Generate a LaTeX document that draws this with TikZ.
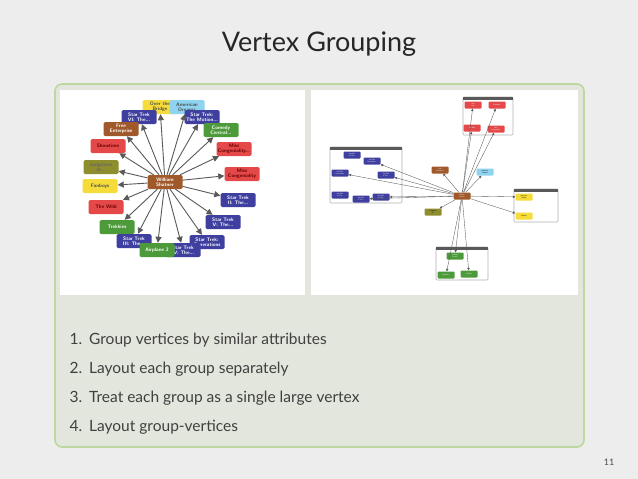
\documentclass[tikz,border=0pt]{standalone}
\usepackage{fontspec}
\setmainfont{Lato}
\usetikzlibrary{arrows.meta}
\definecolor{slidebg}{HTML}{EDEDED}
\definecolor{panel}{HTML}{E3E6DC}
\definecolor{panelb}{HTML}{BCD8A0}
\definecolor{nblue}{HTML}{3F3FA0}
\definecolor{nred}{HTML}{E54848}
\definecolor{ngreen}{HTML}{4C9A3A}
\definecolor{nbrown}{HTML}{A0592A}
\definecolor{nyellow}{HTML}{F5DC3A}
\definecolor{nolive}{HTML}{8E8E2E}
\definecolor{nlblue}{HTML}{8ED4F0}
\begin{document}
\begin{tikzpicture}[x=1pt,y=-1pt,
  nd/.style={rounded corners=1.5pt,inner sep=0.5pt,minimum width=35pt,minimum height=14pt,align=center,font=\fontsize{5}{5.3}\selectfont\sffamily\bfseries,text=white},
  sn/.style={rounded corners=1pt,inner sep=0pt,minimum width=17pt,minimum height=7pt,align=center,font=\fontsize{1.6}{1.8}\selectfont,text=white},
  ed/.style={draw=gray!70!black,line width=0.9pt,-{Triangle[length=6pt,width=6pt]}},
  se/.style={draw=gray!70!black,line width=0.35pt,-{Triangle[length=2.4pt,width=2.4pt]}},
  grp/.style={draw=gray!60,fill=white,line width=0.6pt,rounded corners=1pt},
  gh/.style={fill=gray!70!black},
  lst/.style={anchor=west,font=\fontsize{15.5}{17}\selectfont,text=black!75}]
\useasboundingbox (0,0) rectangle (638,479);
\fill[slidebg] (0,0) rectangle (638,479);
\node[font=\fontsize{27}{30}\selectfont,text=black!85] (title) at (319,44) {Vertex Grouping};
\draw[panelb,fill=panel,line width=1.6pt,rounded corners=7pt] (55,84) rectangle (584,447);
\fill[white] (60,90) rectangle (305,295);
\fill[white] (311,90) rectangle (578,295);
% left graph
\node[nd,fill=nyellow,text=black!70] (ob) at (160,107) {Over the\\Bridge};
\node[nd,fill=nlblue,text=black!70] (am) at (187,107) {American\\Dreamz};
\node[nd,fill=nblue] (s6) at (139,117) {Star Trek\\VI: The...};
\node[nd,fill=nblue] (smp) at (202,117) {Star Trek:\\The Motion...};
\node[nd,fill=nbrown] (fe) at (121,129) {Free\\Enterprise};
\node[nd,fill=ngreen] (cc) at (221,130) {Comedy\\Central...};
\node[nd,fill=nred,text=red!40!black] (sh) at (108,146) {Showtime};
\node[nd,fill=nred,text=red!40!black] (mc1) at (234,149) {Miss\\Congeniality...};
\node[nd,fill=nolive,text=black!60] (ja) at (101,167) {Judgment\\at...};
\node[nd,fill=nred,text=red!40!black] (mc2) at (242,174) {Miss\\Congeniality};
\node[nd,fill=nyellow,text=black!70] (fb) at (100,186) {Fanboys};
\node[nd,fill=nblue] (s2) at (238,200) {Star Trek\\II: The...};
\node[nd,fill=nred,text=red!40!black] (tw) at (106,207) {The Wild};
\node[nd,fill=nblue] (s5) at (223,222) {Star Trek\\V: The...};
\node[nd,fill=ngreen] (tk) at (117,227) {Trekkies};
\node[nd,fill=nblue] (s3) at (134,241) {Star Trek\\III: The...};
\node[nd,fill=nblue] (sg) at (207,242) {Star Trek:\\Generations};
\node[nd,fill=nblue] (s4) at (183,250) {Star Trek\\IV: The...};
\node[nd,fill=ngreen] (ap) at (157,250) {Airplane 2};
\node[nd,fill=nbrown] (ws) at (165,182) {William\\Shatner};
\foreach \t in {ob,am,s6,smp,fe,cc,sh,mc1,ja,mc2,fb,s2,tw,s5,tk,s3,sg,s4,ap}
  \draw[ed] (ws) -- (\t);
% right graph
\draw[grp] (463,97) rectangle (513,135); \fill[gh] (463,97) rectangle (513,100);
\draw[grp] (330,147) rectangle (402,203); \fill[gh] (330,147) rectangle (402,150);
\draw[grp] (514,189) rectangle (558,222); \fill[gh] (514,189) rectangle (558,192);
\draw[grp] (436,247) rectangle (488,280); \fill[gh] (436,247) rectangle (488,250);
\node[sn,fill=nred] (r1) at (473,105) {Star\\Trek};
\node[sn,fill=nred] (r2) at (497,105) {Showtime};
\node[sn,fill=nred] (r3) at (472,128) {The Wild};
\node[sn,fill=nred] (r4) at (496,129) {Miss\\Congeniality};
\node[sn,fill=nblue] (b1) at (352,155) {Star Trek\\VI: The...};
\node[sn,fill=nblue] (b2) at (372,161) {Star Trek\\The Motion...};
\node[sn,fill=nblue] (b3) at (340,173) {Star Trek\\Generations};
\node[sn,fill=nblue] (b4) at (386,175) {Star Trek\\V: The...};
\node[sn,fill=nblue] (b5) at (340,195) {Star Trek\\III: The...};
\node[sn,fill=nblue] (b6) at (361,199) {Star Trek\\II: The...};
\node[sn,fill=nblue] (b7) at (381,197) {Star Trek\\IV: The...};
\node[sn,fill=nyellow,text=black] (y1) at (524,197) {Over the\\Bridge};
\node[sn,fill=nyellow,text=black] (y2) at (524,216) {Fanboys};
\node[sn,fill=ngreen] (g1) at (455,256) {Comedy\\Central};
\node[sn,fill=ngreen] (g2) at (446,275) {Airplane 2};
\node[sn,fill=ngreen] (g3) at (469,274) {Trekkies};
\node[sn,fill=nbrown] (fe2) at (440,170) {Free\\Enterprise};
\node[sn,fill=nlblue,text=black] (am2) at (485,172) {American\\Dreamz};
\node[sn,fill=nolive,text=black] (ja2) at (433,212) {Judgment\\at...};
\node[sn,fill=nbrown] (ws2) at (462,196) {William\\Shatner};
\foreach \t in {r1,r2,r3,r4,b2,b3,b4,b6,b7,y1,y2,g1,g2,g3,fe2,am2,ja2}
  \draw[se] (ws2) -- (\t);
% list
\node[lst] (l1) at (66,340) {1.\hspace{7pt}Group vertices by similar attributes};
\node[lst] (l2) at (66,369) {2.\hspace{7pt}Layout each group separately};
\node[lst] (l3) at (66,398) {3.\hspace{7pt}Treat each group as a single large vertex};
\node[lst] (l4) at (66,427) {4.\hspace{7pt}Layout group-vertices};
\node[font=\fontsize{9}{10}\selectfont,text=black!70] (pg) at (609,462) {11};
\end{tikzpicture}
\end{document}
